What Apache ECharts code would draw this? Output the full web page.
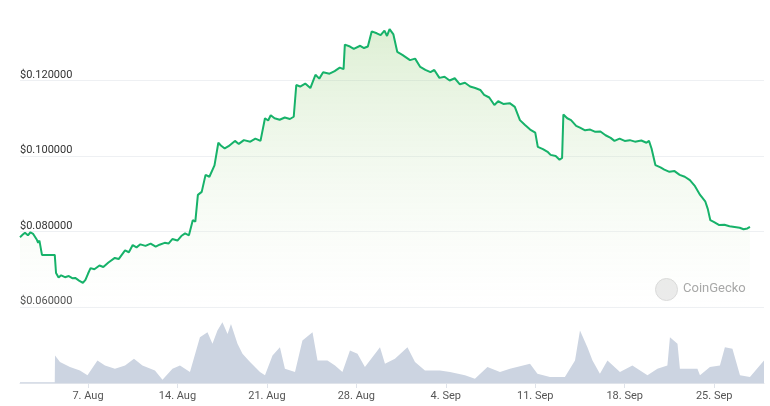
<!DOCTYPE html>
<html>
<head>
<meta charset="utf-8">
<script src="https://cdn.jsdelivr.net/npm/echarts@6/dist/echarts.min.js"></script>
<style>
html,body{margin:0;padding:0;background:#fff;}
#chart{width:770px;height:406px;}
</style>
</head>
<body>
<div id="chart"></div>
<script>
// day offsets counted from 1 Aug (day 32 = 1 Sep)
var priceDay=[1.68,1.9,2.07,2.3,2.5,2.7,3.0,3.1,3.2,3.4,4.4,4.5,4.7,4.9,5.2,5.5,5.8,6.0,6.3,6.6,6.8,7.0,7.2,7.5,7.9,8.2,8.6,9.1,9.4,9.9,10.2,10.5,10.8,11.1,11.5,11.9,12.3,12.6,13.0,13.3,13.6,14.0,14.3,14.6,14.9,15.2,15.4,15.6,15.9,16.2,16.5,16.9,17.0,17.2,17.4,17.7,18.0,18.5,18.8,19.2,19.7,20.1,20.5,20.85,21.1,21.3,21.6,22.0,22.4,22.8,23.1,23.3,23.6,24.0,24.4,24.8,25.1,25.4,25.9,26.3,26.7,27.0,27.1,27.5,27.8,28.3,28.6,28.9,29.2,29.6,29.9,30.2,30.4,30.6,30.9,31.2,31.6,32.2,32.6,33.0,33.4,33.8,34.1,34.5,34.9,35.3,35.7,36.1,36.5,36.9,37.3,37.7,38.0,38.4,38.8,39.1,39.5,40.0,40.4,40.8,41.2,41.6,42.0,42.2,42.6,43.0,43.2,43.6,43.9,44.1,44.2,44.5,44.8,45.2,45.5,45.9,46.3,46.7,47.1,47.5,47.9,48.2,48.6,49.0,49.4,49.8,50.3,50.7,50.9,51.1,51.4,51.8,52.1,52.5,52.9,53.3,53.7,54.1,54.5,54.9,55.3,55.5,55.7,56.0,56.4,56.8,57.2,57.6,58.0,58.3,58.6,58.8];
var priceVal=[.0785,.0792,.0797,.0790,.0798,.0794,.0778,.0770,.0776,.0738,.0738,.0690,.0678,.0684,.0679,.0682,.0676,.0677,.0670,.0664,.0672,.0688,.0703,.0700,.0710,.0706,.0718,.0730,.0727,.0750,.0745,.0764,.0758,.0766,.0762,.0768,.0760,.0765,.0770,.0768,.0780,.0776,.0788,.0795,.0790,.0830,.0826,.0897,.0905,.0950,.0945,.0975,.0970,.1035,.1028,.1020,.1026,.1040,.1032,.1042,.1038,.1046,.1040,.1100,.1094,.1108,.1100,.1096,.1102,.1098,.1104,.1188,.1184,.1192,.1180,.1215,.1205,.1222,.1218,.1225,.1234,.1230,.1295,.1290,.1284,.1292,.1286,.1290,.1330,.1325,.1320,.1332,.1318,.1336,.1322,.1276,.1268,.1254,.1258,.1236,.1228,.1222,.1228,.1207,.1210,.1200,.1206,.1190,.1194,.1184,.1180,.1175,.1162,.1155,.1135,.1145,.1138,.1140,.1130,.1095,.1082,.1070,.1062,.1024,.1018,.1010,.1003,.1000,.0990,.0995,.1110,.1100,.1095,.1080,.1075,.1068,.1070,.1064,.1065,.1055,.1048,.1040,.1046,.1040,.1042,.1038,.1041,.1035,.1040,.1020,.0976,.0970,.0964,.0958,.0960,.0950,.0945,.0936,.0920,.0897,.0880,.0860,.0830,.0825,.0817,.0818,.0814,.0812,.0810,.0806,.0808,.0812];

var volDay=[1.68,4.4,4.42,4.81,5.59,6.37,6.96,7.74,8.33,9.11,9.90,10.60,11.26,12.24,12.83,13.61,14.20,14.98,15.76,16.35,16.74,17.13,17.52,17.92,18.19,18.70,19.09,19.68,20.46,20.85,21.44,22.02,22.41,23.20,23.78,24.57,24.96,25.74,26.33,26.91,27.50,28.09,28.67,29.85,30.24,31.02,32.00,32.59,33.37,34.54,35.33,36.50,37.28,38.26,39.24,40.02,41.59,42.17,43.15,44.32,45.11,45.50,46.08,46.48,47.06,47.65,48.63,49.60,50.78,51.56,52.34,52.54,53.13,53.32,54.69,54.89,55.67,56.45,56.84,57.43,58.02,58.8,59.9];
var volVal=[2,2,83,63,48,38,23,68,53,43,53,73,53,38,10,43,53,33,138,153,118,158,183,148,178,118,88,63,33,23,83,108,43,33,128,153,68,68,53,33,98,88,48,108,58,73,108,63,38,38,33,23,13,48,33,43,58,28,18,18,68,158,108,68,28,68,33,53,23,43,53,138,118,43,43,23,48,53,108,103,23,18,68];

var tickDays=[7,14,21,28,35,42,49,56];
var tickLabels=['7. Aug','14. Aug','21. Aug','28. Aug','4. Sep','11. Sep','18. Sep','25. Sep'];

var chart=echarts.init(document.getElementById('chart'));
var priceData=priceDay.map(function(d,i){return [d,priceVal[i]];});
var volData=volDay.map(function(d,i){return [d,volVal[i]];});

var option={
	animation:false,
	textStyle:{fontFamily:'Roboto, "Noto Sans", sans-serif'},
	grid:[
		{left:20,right:6,top:5,bottom:99},
		{left:20,right:6,top:320,bottom:23}
	],
	xAxis:[
		{type:'value',gridIndex:0,min:1.68,max:59.9,show:false},
		{
			type:'value',gridIndex:1,min:1.68,max:59.9,
			axisLine:{lineStyle:{color:'#dfe3ea'}},
			axisTick:{customValues:tickDays,length:5,lineStyle:{color:'#dfe3ea'}},
			splitLine:{show:false},
			axisLabel:{
				customValues:tickDays,color:'#555',fontSize:11,margin:8,
				formatter:function(v){return tickLabels[tickDays.indexOf(v)];}
			}
		}
	],
	yAxis:[
		{
			type:'value',gridIndex:0,min:0.06,max:0.14,interval:0.02,
			axisLine:{show:false},axisTick:{show:false},
			splitLine:{lineStyle:{color:['#eef0f3','#eef0f3','#eef0f3','#eef0f3','rgba(0,0,0,0)']}},
			axisLabel:{
				inside:true,verticalAlign:'bottom',margin:0,color:'#333',fontSize:11,
				formatter:function(v){return v>0.13?'':'$'+v.toFixed(6);}
			}
		},
		{type:'value',gridIndex:1,min:0,max:190,show:false}
	],
	graphic:[
		{type:'circle',left:655,top:278,shape:{r:11},style:{fill:'#e8e8e8',stroke:'#d4d4d4',lineWidth:1}},
		{type:'text',left:683,top:282,style:{text:'CoinGecko',fill:'#999',fontSize:13,fontFamily:'Roboto, sans-serif'}}
	],
	series:[
		{
			type:'line',xAxisIndex:1,yAxisIndex:1,data:volData,symbol:'none',
			lineStyle:{width:0},
			areaStyle:{color:'#ccd4e1',opacity:1}
		},
		{
			type:'line',xAxisIndex:0,yAxisIndex:0,data:priceData,symbol:'none',
			lineStyle:{color:'#17b26a',width:2},
			areaStyle:{
				origin:'start',
				color:new echarts.graphic.LinearGradient(0,0,0,1,[
					{offset:0,color:'rgba(150,205,120,0.45)'},
					{offset:1,color:'rgba(255,255,255,0.2)'}
				])
			}
		}
	]
};
chart.setOption(option);
</script>
</body>
</html>
